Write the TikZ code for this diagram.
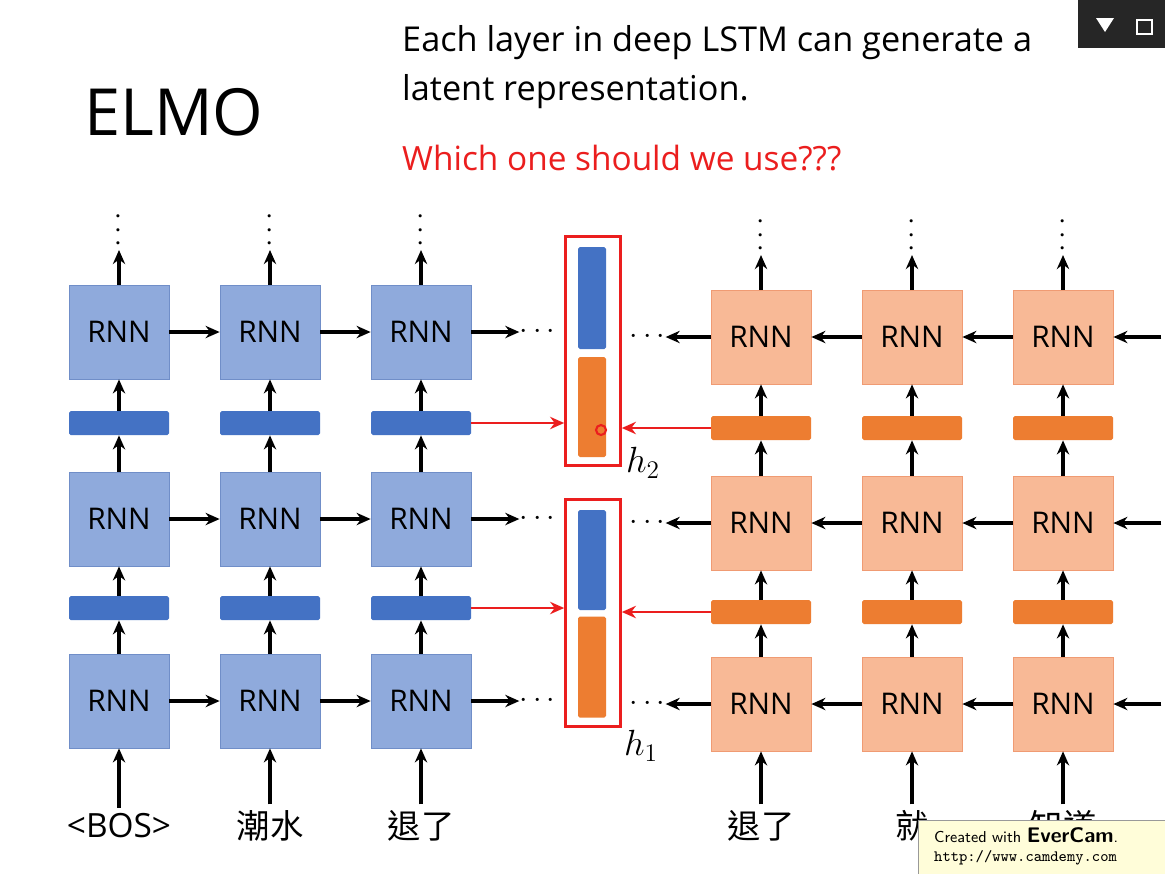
\documentclass[tikz,border=0pt]{standalone}
\usepackage{fontspec}
\setmainfont{Open Sans}
\newfontfamily\cjk{Noto Sans CJK TC}
\usetikzlibrary{arrows.meta}
\definecolor{bbox}{RGB}{143,170,220}
\definecolor{bbord}{RGB}{112,142,200}
\definecolor{obox}{RGB}{248,185,150}
\definecolor{obord}{RGB}{240,155,115}
\definecolor{bbar}{RGB}{68,114,196}
\definecolor{obar}{RGB}{237,125,49}
\definecolor{redc}{RGB}{235,30,30}
\tikzset{
 rnnb/.style={draw=bbord,fill=bbox,minimum width=100*0.02cm,minimum height=94*0.02cm,font=\fontsize{17}{17}\selectfont,inner sep=0pt},
 rnno/.style={draw=obord,fill=obox,minimum width=100*0.02cm,minimum height=94*0.02cm,font=\fontsize{17}{17}\selectfont,inner sep=0pt},
 barb/.style={fill=bbar,minimum width=100*0.02cm,minimum height=24*0.02cm,inner sep=0pt,rounded corners=1pt},
 baro/.style={fill=obar,minimum width=100*0.02cm,minimum height=24*0.02cm,inner sep=0pt,rounded corners=1pt},
 arr/.style={-{Stealth[length=8pt,width=7pt]},line width=2pt},
 rarr/.style={-{Stealth[length=8pt,width=7pt]},line width=1.4pt,draw=redc},
 word/.style={font=\fontsize{19}{19}\selectfont},
 dots/.style={font=\fontsize{19}{19}\selectfont,inner sep=0pt},
}
\begin{document}
\begin{tikzpicture}[x=0.02cm,y=-0.02cm]
\useasboundingbox (0,0) rectangle (1165,873);
\fill[white] (0,0) rectangle (1165,873);
\node[anchor=west,font=\fontsize{37}{37}\selectfont] (title) at (78,112) {ELMO};
\node[anchor=west,font=\fontsize{19.5}{19.5}\selectfont] (t1) at (396,43) {Each layer in deep LSTM can generate a};
\node[anchor=west,font=\fontsize{19.5}{19.5}\selectfont] (t2) at (396,92) {latent representation.};
\node[anchor=west,font=\fontsize{19}{19}\selectfont,text=redc] (t3) at (396,158) {Which one should we use???};
\fill[black!85] (1078,0) rectangle (1165,48);
\fill[white] (1096,18) -- (1114,18) -- (1105,32) -- cycle;
\draw[white,line width=1pt] (1137,20) rectangle (1152,34);
% blue columns
\foreach \c/\x/\w in {1/119/{<BOS>},2/270/{\cjk 潮水},3/421/{\cjk 退了}}{
 \node[rnnb] (b\c a) at (\x,701) {RNN};
 \node[barb] (bb\c a) at (\x,608) {};
 \node[rnnb] (b\c b) at (\x,519) {RNN};
 \node[barb] (bb\c b) at (\x,423) {};
 \node[rnnb] (b\c c) at (\x,332) {RNN};
 \node[word] (w\c) at (\x,826) {\w};
 \coordinate (top\c) at (\x,250);
 \node[dots,rotate=90] (d\c) at (\x,230) {$\cdots$};
 \draw[arr] (w\c.north) -- (b\c a.south);
 \draw[arr] (b\c a.north) -- (bb\c a.south);
 \draw[arr] (bb\c a.north) -- (b\c b.south);
 \draw[arr] (b\c b.north) -- (bb\c b.south);
 \draw[arr] (bb\c b.north) -- (b\c c.south);
 \draw[arr] (b\c c.north) -- (top\c);
}
\foreach \r in {a,b,c}{
 \draw[arr] (b1\r.east) -- (b2\r.west);
 \draw[arr] (b2\r.east) -- (b3\r.west);
 \coordinate (be\r) at ([xshift=48*0.02cm]b3\r.east);
 \draw[arr] (b3\r.east) -- (be\r);
 \node[dots,anchor=west] (bd\r) at (be\r) {$\cdots$};
}
% orange columns
\foreach \c/\x/\w in {1/761/{\cjk 退了},2/912/{\cjk 就},3/1063/{\cjk 知道}}{
 \node[rnno] (o\c a) at (\x,704) {RNN};
 \node[baro] (ob\c a) at (\x,612) {};
 \node[rnno] (o\c b) at (\x,523) {RNN};
 \node[baro] (ob\c b) at (\x,428) {};
 \node[rnno] (o\c c) at (\x,337) {RNN};
 \node[word] (ow\c) at (\x,826) {\w};
 \coordinate (otop\c) at (\x,255);
 \node[dots,rotate=90] (od\c) at (\x,235) {$\cdots$};
 \draw[arr] (ow\c.north) -- (o\c a.south);
 \draw[arr] (o\c a.north) -- (ob\c a.south);
 \draw[arr] (ob\c a.north) -- (o\c b.south);
 \draw[arr] (o\c b.north) -- (ob\c b.south);
 \draw[arr] (ob\c b.north) -- (o\c c.south);
 \draw[arr] (o\c c.north) -- (otop\c);
}
\foreach \r in {a,b,c}{
 \draw[arr] (o3\r.west) -- (o2\r.east);
 \draw[arr] (o2\r.west) -- (o1\r.east);
 \coordinate (oe\r) at ([xshift=-45*0.02cm]o1\r.west);
 \draw[arr] (o1\r.west) -- (oe\r);
 \node[dots,anchor=east] (od\r) at (oe\r) {$\cdots$};
 \coordinate (rin\r) at ([xshift=48*0.02cm]o3\r.east);
 \draw[arr] (rin\r) -- (o3\r.east);
}
% concatenated vectors
\node[draw=redc,line width=1.5pt,minimum width=55*0.02cm,minimum height=229*0.02cm,inner sep=0pt] (h2box) at (593,351) {};
\node[fill=bbar,minimum width=28*0.02cm,minimum height=102*0.02cm,inner sep=0pt,rounded corners=1pt] (h2b) at (592,298) {};
\node[fill=obar,minimum width=28*0.02cm,minimum height=100*0.02cm,inner sep=0pt,rounded corners=1pt] (h2o) at (592,407) {};
\node[draw=redc,line width=1.5pt,minimum width=55*0.02cm,minimum height=227*0.02cm,inner sep=0pt] (h1box) at (593,613) {};
\node[fill=bbar,minimum width=28*0.02cm,minimum height=100*0.02cm,inner sep=0pt,rounded corners=1pt] (h1b) at (592,560) {};
\node[fill=obar,minimum width=28*0.02cm,minimum height=101*0.02cm,inner sep=0pt,rounded corners=1pt] (h1o) at (592,667) {};
\node[font=\fontsize{20}{20}\selectfont] (h2l) at (643,463) {$h_2$};
\node[font=\fontsize{20}{20}\selectfont] (h1l) at (641,746) {$h_1$};
\draw[redc,line width=1.2pt] (601,430) circle (5);
\draw[rarr] (bb3b.east) -- (h2box.west |- bb3b.east);
\draw[rarr] (ob1b.west) -- (h2box.east |- ob1b.west);
\draw[rarr] (bb3a.east) -- (h1box.west |- bb3a.east);
\draw[rarr] (ob1a.west) -- (h1box.east |- ob1a.west);
% watermark
\node[draw=black!40,fill=yellow!15,anchor=north west,minimum width=260*0.02cm,minimum height=55*0.02cm,inner sep=0pt] (wm) at (918,820) {};
\node[anchor=west,font=\sffamily\fontsize{9}{9}\selectfont] (wm1) at (928,835) {Created with \textbf{\fontsize{12}{12}\selectfont EverCam}.};
\node[anchor=west,font=\ttfamily\fontsize{9}{9}\selectfont] (wm2) at (928,858) {http://www.camdemy.com};
\end{tikzpicture}
\end{document}
